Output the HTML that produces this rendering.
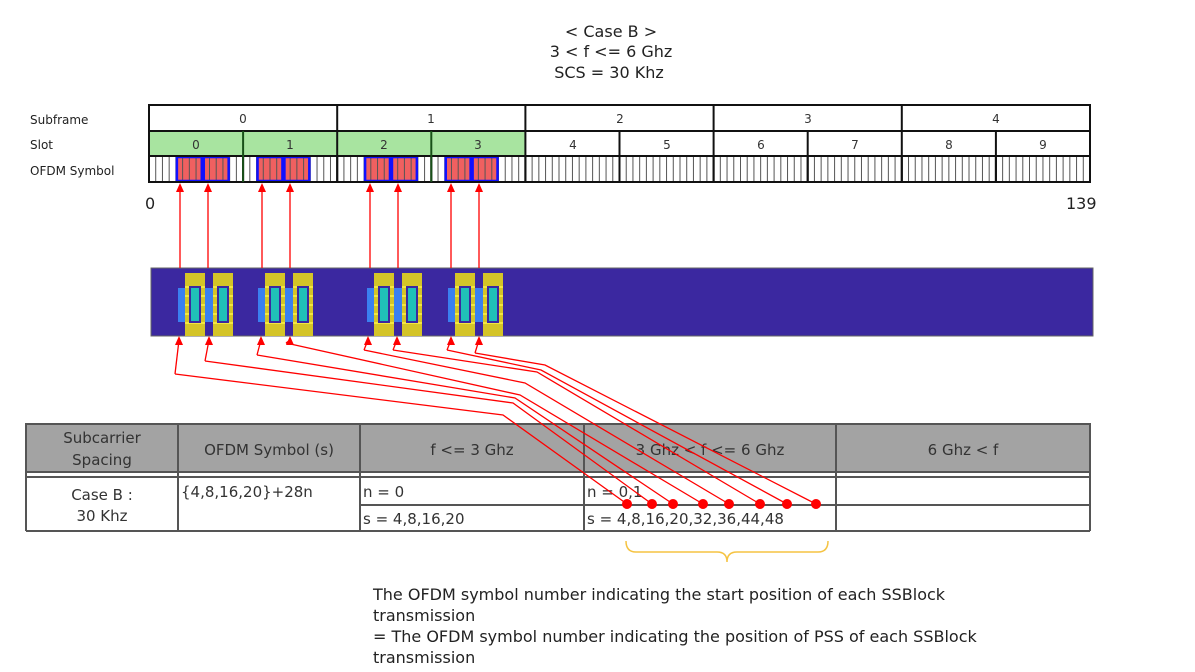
<!DOCTYPE html>
<html><head><meta charset="utf-8"><style>
html,body{margin:0;padding:0;background:#fff;width:1195px;height:672px;overflow:hidden}
svg{display:block;font-family:"Liberation Sans","DejaVu Sans",sans-serif}
</style></head><body>
<svg id="s" width="1195" height="672" viewBox="0 0 1195 672" xmlns="http://www.w3.org/2000/svg">
<g font-size="16" fill="#222" text-anchor="middle" font-family="DejaVu Sans, sans-serif">
<text x="611" y="37">&lt; Case B &gt;</text>
<text x="611" y="57">3 &lt; f &lt;= 6 Ghz</text>
<text x="609" y="78">SCS = 30 Khz</text>
</g>
<g font-size="12" fill="#222" font-family="DejaVu Sans, sans-serif">
<text x="30" y="124">Subframe</text>
<text x="30" y="149">Slot</text>
<text x="30" y="175">OFDM Symbol</text>
</g>
<rect x="149" y="131" width="376" height="25" fill="#a8e4a0"/>
<g id="grid"></g>
<g font-size="12" fill="#333" text-anchor="middle" font-family="DejaVu Sans, sans-serif">
<text x="243" y="123">0</text><text x="431" y="123">1</text><text x="620" y="123">2</text><text x="808" y="123">3</text><text x="996" y="123">4</text>
<text x="196" y="149">0</text><text x="290" y="149">1</text><text x="384" y="149">2</text><text x="478" y="149">3</text><text x="573" y="149">4</text><text x="667" y="149">5</text><text x="761" y="149">6</text><text x="855" y="149">7</text><text x="949" y="149">8</text><text x="1043" y="149">9</text>
</g>
<g font-size="16" fill="#222" font-family="DejaVu Sans, sans-serif">
<text x="145" y="209">0</text><text x="1066" y="209">139</text>
</g>
<rect x="151" y="268" width="942" height="68" fill="#3b28a0" stroke="#666" stroke-width="1"/>
<g id="blocks"></g>
<!-- table -->
<g stroke="#555" stroke-width="2" fill="none">
<rect x="26" y="424" width="1064" height="48" fill="#a3a3a3"/>
<line x1="26" y1="477" x2="1090" y2="477"/>
<line x1="26" y1="531" x2="1090" y2="531"/>
<line x1="26" y1="472" x2="26" y2="531"/>
<line x1="178" y1="424" x2="178" y2="531"/>
<line x1="360" y1="424" x2="360" y2="531"/>
<line x1="584" y1="424" x2="584" y2="531"/>
<line x1="836" y1="424" x2="836" y2="531"/>
<line x1="1090" y1="424" x2="1090" y2="531"/>
<line x1="360" y1="505" x2="1090" y2="505"/>
</g>
<g font-size="15" fill="#333" text-anchor="middle" font-family="DejaVu Sans, sans-serif">
<text x="102" y="443">Subcarrier</text><text x="102" y="465">Spacing</text>
<text x="269" y="455">OFDM Symbol (s)</text>
<text x="472" y="455">f &lt;= 3 Ghz</text>
<text x="710" y="455">3 Ghz &lt; f &lt;= 6 Ghz</text>
<text x="963" y="455">6 Ghz &lt; f</text>
<text x="102" y="500">Case B :</text><text x="102" y="521">30 Khz</text>
</g>
<g font-size="15" fill="#333" font-family="DejaVu Sans, sans-serif">
<text x="181" y="497">{4,8,16,20}+28n</text>
<text x="363" y="497">n = 0</text>
<text x="363" y="524">s = 4,8,16,20</text>
<text x="587" y="497">n = 0,1</text>
<text x="587" y="524">s = 4,8,16,20,32,36,44,48</text>
</g>
<g id="lines" fill="none" stroke="#f00" stroke-width="1.3"></g>
<g id="over"></g>
<path d="M626,541 Q626,552 636,552 L717,552 Q727,552 727,562 Q727,552 737,552 L818,552 Q828,552 828,541" fill="none" stroke="#f5c342" stroke-width="1.5"/>
<g font-size="16" fill="#222" font-family="DejaVu Sans, sans-serif">
<text x="373" y="600">The OFDM symbol number indicating the start position of each SSBlock</text>
<text x="373" y="621">transmission</text>
<text x="373" y="642">= The OFDM symbol number indicating the position of PSS of each SSBlock</text>
<text x="373" y="663">transmission</text>
</g>
</svg>
<script>
var NS="http://www.w3.org/2000/svg";
function el(p,t,a){var e=document.createElementNS(NS,t);for(var k in a)e.setAttribute(k,a[k]);p.appendChild(e);return e;}
var g=document.getElementById('grid');
var x0=149,x1=1090,w=(x1-x0)/140;
var ss=[4,8,16,20,32,36,44,48];
ss.forEach(function(s){var x=x0+s*w;el(g,'rect',{x:x,y:156,width:4*w,height:26,fill:'#f06060'});});
for(var i=1;i<140;i++){var x=x0+i*w;el(g,'line',{x1:x,y1:156,x2:x,y2:182,stroke:(i%14==0?'#000':'#555'),'stroke-width':(i%14==0?2:1)});}
ss.forEach(function(s){var x=x0+s*w;el(g,'rect',{x:x+1,y:157,width:4*w-2,height:24,fill:'none',stroke:'#1010ff','stroke-width':2.5});});
el(g,'rect',{x:149,y:105,width:941,height:77,fill:'none',stroke:'#111','stroke-width':2});
el(g,'line',{x1:149,y1:131,x2:1090,y2:131,stroke:'#111','stroke-width':2});
el(g,'line',{x1:149,y1:156,x2:1090,y2:156,stroke:'#111','stroke-width':2});
for(var i=1;i<5;i++){var x=x0+i*188.2;el(g,'line',{x1:x,y1:105,x2:x,y2:182,stroke:'#111','stroke-width':2});}
for(var i=1;i<10;i+=2){var x=x0+i*94.1;el(g,'line',{x1:x,y1:131,x2:x,y2:182,stroke:i<4?'#185018':'#111','stroke-width':2});}
var b=document.getElementById('blocks');
[178,258,367,448].forEach(function(x){
 el(b,'rect',{x:x,y:288,width:35,height:34,fill:'#3a80f0'});
 [x+7,x+35].forEach(function(xx){
  el(b,'rect',{x:xx,y:273,width:20,height:63,fill:'#d4c428'});
  for(var k=0;k<5;k++)el(b,'line',{x1:xx,y1:287+k*9,x2:xx+20,y2:287+k*9,stroke:'#f4e840','stroke-width':2});
  el(b,'rect',{x:xx+4,y:286,width:12,height:37,fill:'#3b28a0'});
  el(b,'rect',{x:xx+6,y:288,width:8,height:33,fill:'#20c0b8'});
 });
});
var L=document.getElementById('lines'),O=document.getElementById('over');
var up=[180,208,262,290,370,398,451,479];
function arrow(p,x,y){el(p,'polygon',{points:(x-4)+','+(y+9)+' '+x+','+y+' '+(x+4)+','+(y+9),fill:'#f00',stroke:'none'});}
up.forEach(function(x){el(L,'line',{x1:x,y1:268,x2:x,y2:190});arrow(O,x,183);});
var st=[[175,374],[205,361],[257,355],[286,343],[364,350],[393,350],[447,350],[475,353]];
var mid=[[503,415],[513,403],[515,398],[520,395],[525,383],[537,372],[541,370],[545,365]];
var dots=[627,652,673,703,729,760,787,816];
for(var i=0;i<8;i++){
 var sx=st[i][0];
 el(L,'polyline',{points:sx+','+st[i][1]+' '+(sx+4)+','+340});
 arrow(O,sx+4,336);
 el(L,'polyline',{points:sx+','+st[i][1]+' '+mid[i][0]+','+mid[i][1]+' '+dots[i]+','+504});
 el(O,'circle',{cx:dots[i],cy:504,r:5,fill:'#f00'});
}
</script>
</body></html>
